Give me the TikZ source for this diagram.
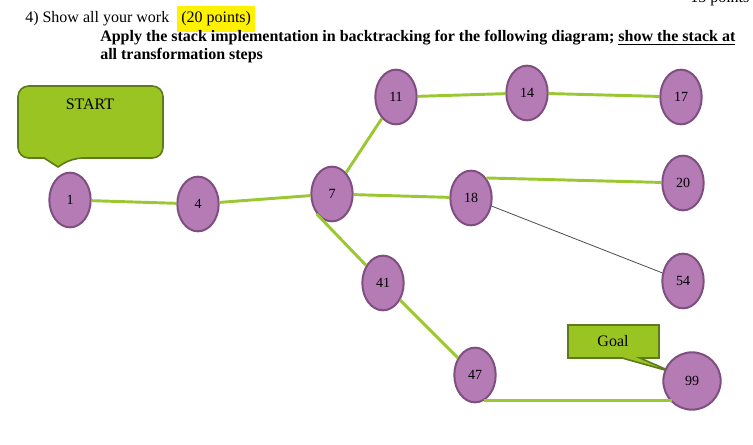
\documentclass[tikz,border=0pt]{standalone}
\usepackage{fontspec}
\setmainfont{Liberation Serif}
\usetikzlibrary{shapes.geometric}
\definecolor{ln}{HTML}{9BC832}
\definecolor{nf}{HTML}{B57BB5}
\definecolor{nd}{HTML}{7E4F80}
\definecolor{cf}{HTML}{99C421}
\definecolor{cd}{HTML}{5E7A1A}
\begin{document}
\begin{tikzpicture}[x=0.75pt,y=-0.75pt,
  nd/.style={ellipse,draw=nd,line width=1.5pt,fill=nf,minimum width=31pt,minimum height=41pt,inner sep=0pt,font=\fontsize{10.5}{12}\selectfont},
  ed/.style={draw=ln,line width=2.2pt},
  tx/.style={anchor=west,inner sep=0pt,font=\fontsize{12}{14}\selectfont}]
\useasboundingbox (0,0) rectangle (753,445);
\node[tx] (pts) at (690,-1) {15 points};
\node[tx] (q) at (25,19) {4) Show all your work \ \colorbox{yellow}{\strut(20 points)}};
\node[tx,font=\bfseries\fontsize{12}{14}\selectfont] (l1) at (100,38) {Apply the stack implementation in backtracking for the following diagram; \underline{show the stack at}};
\node[tx,font=\bfseries\fontsize{12}{14}\selectfont] (l2) at (100,56) {all transformation steps};
% callouts
\draw[draw=cd,line width=1.2pt,fill=cf,rounded corners=8pt] (18,86) -- (163,86) -- (163,158) -- (72,158) [sharp corners]-- (58,167) -- (44,158) [rounded corners=8pt]-- (18,158) -- cycle;
\node[font=\fontsize{12}{14}\selectfont] (start) at (90,104) {START};
\draw[draw=cd,line width=1.2pt,fill=cf] (568,325) -- (659,325) -- (659,358) -- (640,358) -- (672,372) -- (622,358) -- (568,358) -- cycle;
\node[font=\fontsize{12}{14}\selectfont] (goal) at (613,341) {Goal};
\path (70,200) node[nd] (n1) {1}
 (198,204) node[nd] (n4) {4}
 (332,194) node[nd] (n7) {7}
 (396,97) node[nd] (n11) {11}
 (527,93) node[nd] (n14) {14}
 (681,97) node[nd] (n17) {17}
 (471,198) node[nd] (n18) {18}
 (683,183) node[nd] (n20) {20}
 (683,281) node[nd] (n54) {54}
 (383,283) node[nd] (n41) {41}
 (475,375) node[nd] (n47) {47}
 (692,381) node[nd,minimum width=43pt,minimum height=43pt] (n99) {99};
\draw[ed] (n1) -- (n4); \draw[ed] (n4) -- (n7); \draw[ed] (n7) -- (n11);
\draw[ed] (n11) -- (n14); \draw[ed] (n14) -- (n17); \draw[ed] (n7) -- (n18);
\draw[ed] (n18.north east) -- (n20); \draw[draw=black!70,line width=0.6pt] (n18) -- (n54);
\draw[ed] (n7.south west) -- (n41); \draw[ed] (n41) -- (n47);
\coordinate (h99) at (672,404);
\draw[ed] (n47.-70) -- (n47.-70 -| h99);
\end{tikzpicture}
\end{document}
